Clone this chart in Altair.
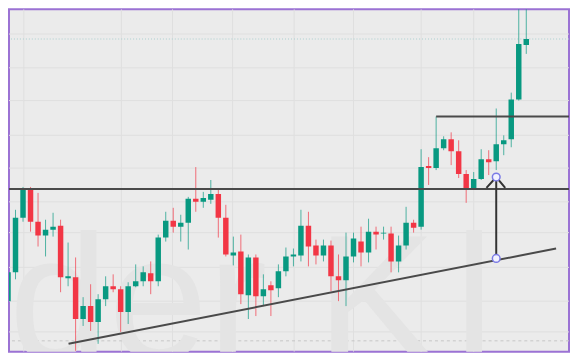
import altair as alt
import pandas as pd

# ---- candle data (70 bars) ----
opens  = [98,127,182,210,178,164,170,174,121,122, 80,93,77,100,113,110,87,113,118,126,
          118,162,179,173,177,201,198,200,206,182, 144,148,104,142,103,114,111,128,143,144,
          174,154,144,154,123,119,143,158,147,168, 166,166,138,154,177,173,234,232,252,261,
          249,226,211,221,241,239,256,261,301,356]
highs  = [132,190,213,213,207,180,187,180,157,142, 102,115,105,123,125,113,117,135,133,138,
          165,188,192,185,203,233,208,220,210,195, 163,165,145,145,125,118,135,152,151,190,
          188,160,160,159,145,167,167,173,181,173, 173,173,164,193,180,251,243,284,264,268,
          260,230,228,251,250,292,265,308,420,420]
lows   = [94,120,178,168,153,143,163,107,113,48, 73,68,55,93,107,67,75,112,113,105,
          113,158,167,158,150,188,192,196,162,143, 134,95,80,83,93,83,102,123,133,138,
          133,135,138,108,98,93,137,133,137,150, 160,127,127,150,167,170,215,230,250,235,
          222,197,210,220,225,230,245,253,300,347]
closes = [127,182,210,178,164,170,173,122,123,80, 93,77,100,113,110,87,113,118,127,118,
          162,179,173,177,201,198,202,206,182,145, 147,105,142,103,110,109,128,143,145,174,
          153,144,154,123,119,143,161,147,168,165, 167,138,154,177,172,233,232,252,261,249,
          226,211,221,241,238,256,260,301,357,362]

# ---- drawn levels ----
support_level = [211]            # full-width horizontal line
resist_start = [57]; resist_level = [284]
trend_x = [8.06, 72.97]; trend_p = [55, 151]
arrow_x = [65]; arrow_from = [141]; arrow_to = [223]
head_x = [63.7, 65, 66.2]; head_p = [212, 223, 212]
dot_level = [362]; dash_level = [58]

# ---- background grid ----
grid_p = [367, 333, 300, 265, 232, 198, 167, 132, 98, 67]
grid_i = [2.1, 15.1, 21.9, 29.9, 38.1, 46.0, 55.0, 62.0]

# ---- watermark ----
wm_text = ["ader", "K", "l"]
wm_i = [-13.1, 41.1, 59.4]
wm_p = [40, 40, 40]

GREEN = "#089981"
RED = "#f23645"
LINE = "#4a4a4a"
BG = "#ebebeb"
PURPLE = "#9b72d4"

xs = alt.Scale(domain=[0.132, 74.69], nice=False, zero=False, padding=0)
ys = alt.Scale(domain=[47, 392], nice=False, zero=False, padding=0)


def X(f="i"):
    return alt.X(f"{f}:Q", scale=xs, axis=None)


def Y(f="p"):
    return alt.Y(f"{f}:Q", scale=ys, axis=None)


df = pd.DataFrame({"i": list(range(len(opens))), "o": opens, "h": highs, "l": lows, "c": closes})
df["dir"] = ["up" if c >= o else "down" for o, c in zip(opens, closes)]
df["top"] = df[["o", "c"]].max(axis=1)
df["bot"] = df[["o", "c"]].min(axis=1)

color = alt.Color("dir:N", scale=alt.Scale(domain=["up", "down"], range=[GREEN, RED]), legend=None)

hgrid = alt.Chart(pd.DataFrame({"p": grid_p})).mark_rule(color="#dfdfdf", strokeWidth=1).encode(y=Y())
vgrid = alt.Chart(pd.DataFrame({"i": grid_i})).mark_rule(color="#dfdfdf", strokeWidth=1, clip=True).encode(x=X())

dotted = alt.Chart(pd.DataFrame({"p": dot_level})).mark_rule(
    color="#a9cfcf", strokeWidth=1, strokeDash=[1, 2]).encode(y=Y())
dashed = alt.Chart(pd.DataFrame({"p": dash_level})).mark_rule(
    color="#c6c6c6", strokeWidth=1, strokeDash=[3, 3]).encode(y=Y())

wm = alt.Chart(pd.DataFrame({"t": wm_text, "i": wm_i, "p": wm_p})).mark_text(
    align="left", baseline="alphabetic", fontSize=180, font="Liberation Sans",
    color="#e4e4e4", clip=True).encode(x=X(), y=Y(), text="t:N")

wicks = alt.Chart(df).mark_rule(strokeWidth=1, opacity=0.7, clip=True).encode(
    x=X(), y=Y("l"), y2="h:Q", color=color)
bodies = alt.Chart(df).mark_bar(size=5.5, clip=True).encode(
    x=X(), y=Y("bot"), y2="top:Q", color=color)

support = alt.Chart(pd.DataFrame({"p": support_level})).mark_rule(
    color=LINE, strokeWidth=2).encode(y=Y())
resist = alt.Chart(pd.DataFrame({"i": resist_start, "i2": [80], "p": resist_level})).mark_rule(
    color=LINE, strokeWidth=2, clip=True).encode(x=X(), x2="i2:Q", y=Y())
trend = alt.Chart(pd.DataFrame({"i": [trend_x[0]], "i2": [trend_x[1]], "p": [trend_p[0]], "p2": [trend_p[1]]})).mark_rule(
    color=LINE, strokeWidth=2).encode(x=X(), x2="i2:Q", y=Y(), y2="p2:Q")
shaft = alt.Chart(pd.DataFrame({"i": arrow_x, "p": arrow_from, "p2": arrow_to})).mark_rule(
    color="#333333", strokeWidth=2).encode(x=X(), y=Y(), y2="p2:Q")
head = alt.Chart(pd.DataFrame({"i": head_x, "p": head_p, "k": [0, 1, 2]})).mark_line(
    color="#333333", strokeWidth=2).encode(x=X(), y=Y(), order="k:Q")
circles = alt.Chart(pd.DataFrame({"i": arrow_x * 2, "p": arrow_from + arrow_to})).mark_circle(
    size=60, fill="#f2f2ff", stroke="#7b7be6", strokeWidth=1.5, opacity=1).encode(x=X(), y=Y())

chart = alt.layer(
    hgrid, vgrid, dotted, dashed, wm, wicks, bodies, support, resist, trend, shaft, head, circles
).properties(width=564, height=345, padding=0, background="white").configure_view(
    stroke=PURPLE, strokeWidth=2, fill=BG
)

chart.save("out.html", embed_options={"renderer": "svg", "actions": False})
